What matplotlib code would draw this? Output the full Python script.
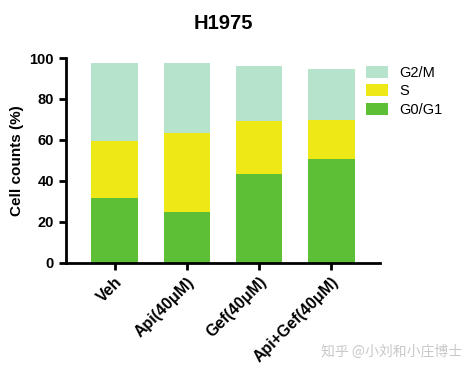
import matplotlib
matplotlib.use("Agg")
import matplotlib.pyplot as plt

plt.rcParams['font.family'] = ['Liberation Sans', 'DejaVu Sans']

# Data (percent of cells)
groups = ["Veh", "Api(40\u03bcM)", "Gef(40\u03bcM)", "Api+Gef(40\u03bcM)"]
g0g1 = [31.8, 24.8, 43.2, 50.5]
s_phase = [27.6, 38.7, 25.8, 19.4]
g2m = [38.1, 34.0, 27.0, 24.9]

c_g2m = "#b5e3cb"
c_s = "#efe817"
c_g0 = "#5cbf35"

fig = plt.figure(figsize=(4.74, 3.72), dpi=100)
ax = fig.add_axes([0.139, 0.294, 0.663, 0.55])

x = range(len(groups))
w = 0.65
ax.bar(x, g0g1, w, color=c_g0, label="G0/G1")
bottom_s = g0g1
ax.bar(x, s_phase, w, bottom=bottom_s, color=c_s, label="S")
bottom_g2 = [a + b for a, b in zip(g0g1, s_phase)]
ax.bar(x, g2m, w, bottom=bottom_g2, color=c_g2m, label="G2/M")

ax.set_xlim(-0.68, 3.68)
ax.set_ylim(0, 100)
ax.set_yticks([0, 20, 40, 60, 80, 100])
ax.set_xticks(list(x))
ax.set_xticklabels(groups, rotation=45, ha="right", rotation_mode="anchor",
                   fontsize=11.5, fontweight="bold")
for lab in ax.get_yticklabels():
    lab.set_fontweight("bold")
    lab.set_fontsize(10.5)

for side in ["top", "right"]:
    ax.spines[side].set_visible(False)
for side in ["left", "bottom"]:
    ax.spines[side].set_linewidth(2)
ax.tick_params(width=2, length=5)

ax.set_ylabel("Cell counts (%)", fontsize=11, fontweight="bold")
ax.set_title("H1975", fontsize=14.5, fontweight="bold", pad=21)

handles, labels = ax.get_legend_handles_labels()
leg = ax.legend(handles[::-1], labels[::-1], loc="upper left",
                bbox_to_anchor=(0.936, 0.99), frameon=False,
                fontsize=10.5, handlelength=1.5, handleheight=0.9,
                handletextpad=0.8, labelspacing=0.3, borderaxespad=0)

fig.text(0.975, 0.055, "知乎 @小刘和小庄博士", ha="right", va="center",
         fontsize=10, color="#c8c8c8",
         family=["Noto Sans CJK SC", "DejaVu Sans"])

fig.savefig("out.png", dpi=100)
